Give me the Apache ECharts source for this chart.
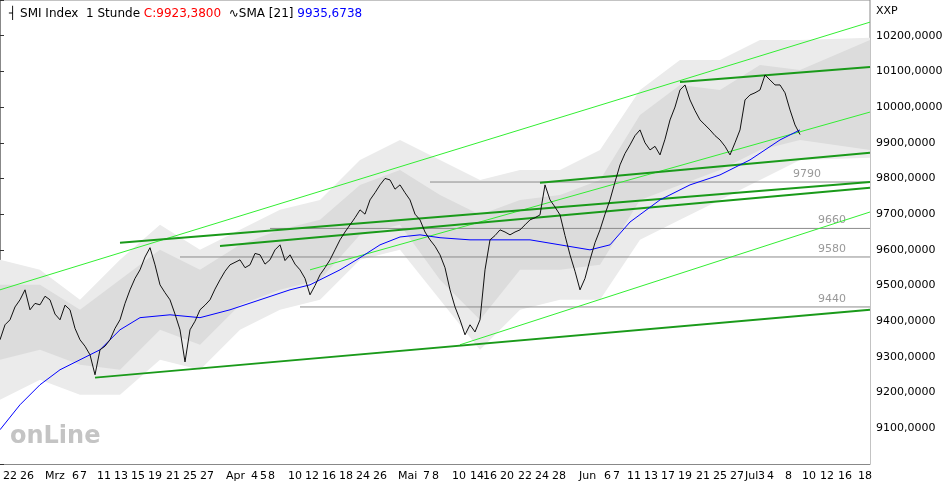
<!DOCTYPE html>
<html>
<head>
<meta charset="utf-8">
<script src="https://cdn.jsdelivr.net/npm/echarts@6/dist/echarts.min.js"></script>
<style>html,body{margin:0;padding:0;background:#fff}#main{width:950px;height:490px}</style>
</head>
<body>
<div id="main"></div>
<script>
/* x = Balkennummer (Stundenbalken), y = Kurs */
var tickPos = [3,20,45,72,80,97,114,131,148,166,183,200,226,251,260,268,288,305,322,339,356,373,398,423,432,452,470,483,500,518,535,552,579,604,613,627,644,661,678,696,713,730,745,758,767,785,802,820,838,858];
var tickText = ['22','26','Mrz','6','7','11','13','15','19','21','25','27','Apr','4','5','8','10','12','16','18','24','26','Mai','7','8','10','14','16','20','22','24','28','Jun','6','7','11','13','17','19','21','25','27','Jul','3','4','8','10','12','16','18'];

// Kurs alle 5 Balken, ab Balken 0
var priceStep = 5;
var price = [
    9348,9390,9404,9440,9460,9488,9432,9450,9446,9470,   // 0-45
    9460,9420,9404,9445,9432,9380,9348,9330,9306,9250,   // 50-95
    9320,9330,9348,9380,9404,9450,9488,9520,9544,9580,   // 100-145
    9606,9558,9502,9480,9460,9420,9376,9286,9376,9400,   // 150-195
    9432,9445,9460,9490,9516,9540,9558,9565,9572,9550,   // 200-245
    9558,9590,9586,9560,9572,9600,9614,9570,9586,9560,   // 250-295
    9544,9520,9474,9500,9530,9550,9572,9600,9628,9650,   // 300-345
    9670,9690,9712,9700,9740,9760,9782,9800,9796,9770,   // 350-395
    9782,9760,9740,9700,9684,9650,9628,9610,9586,9550,   // 400-445
    9488,9440,9404,9362,9390,9370,9404,9544,9628,9640,   // 450-495
    9656,9650,9642,9650,9656,9670,9684,9690,9698,9782,   // 500-545
    9740,9720,9698,9640,9586,9540,9488,9520,9572,9620,   // 550-595
    9656,9700,9740,9790,9838,9870,9894,9920,9936,9900,   // 600-645
    9880,9890,9866,9910,9964,10000,10048,10062,10020,9990, // 650-695
    9964,9950,9936,9920,9908,9890,9866,9900,9936,10020,  // 700-745
    10034,10040,10048,10090,10076,10062,10062,10040,9992,9950, // 750-795
    9923                                                 // 800
];

var smaX = [0,20,40,60,80,100,120,140,170,200,230,260,290,310,340,360,380,400,420,440,470,500,530,560,590,610,630,660,690,720,750,780,800];
var sma = [9096,9166,9222,9264,9292,9320,9376,9410,9418,9410,9432,9460,9488,9502,9544,9578,9614,9636,9642,9634,9628,9628,9628,9614,9600,9614,9678,9740,9782,9810,9852,9908,9936];

var bandX = [0,40,80,120,160,200,240,280,320,360,400,440,480,520,560,600,640,680,720,760,800,870];
var outerHigh = [9572,9544,9460,9572,9670,9600,9656,9712,9740,9852,9908,9852,9796,9824,9824,9880,10048,10132,10132,10188,10188,10194];
var outerLow = [9180,9236,9194,9194,9292,9264,9376,9432,9460,9572,9600,9460,9320,9432,9460,9460,9628,9684,9740,9796,9852,9858];
var innerHigh = [9502,9502,9432,9516,9600,9544,9614,9656,9684,9782,9824,9754,9698,9740,9754,9796,9978,10062,10048,10118,10104,10188];
var innerLow = [9292,9320,9278,9264,9376,9334,9446,9488,9516,9642,9670,9516,9404,9544,9544,9558,9740,9782,9824,9880,9908,9880];

var brightLines = [[[0,9488],[870,10238]],[[310,9544],[870,9986]],[[460,9334],[870,9706]]];
var darkLines = [[[95,9242],[870,9432]],[[120,9620],[870,9790]],[[220,9611],[870,9774]],[[540,9788],[870,9872]],[[680,10070],[870,10112]]];
var levels = [9790,9660,9580,9440];
var levelStart = [430,270,180,300];
var levelLabelShift = [-85,-60,-60,-60];

function zip(xs, ys){ return xs.map(function(x,i){ return [x, ys[i]]; }); }

var chart = echarts.init(document.getElementById('main'));
var series = [];
function band(data, color){
    series.push({type:'line', data: zip(bandX, data), symbol:'none', lineStyle:{width:0},
        areaStyle:{color:color, opacity:1, origin:'start'}, silent:true, z:1});
}
band(outerHigh,'#ebebeb');
band(innerHigh,'#dcdcdc');
band(innerLow,'#ebebeb');
band(outerLow,'#ffffff');
series.push({type:'line', data:[], markArea:{silent:true, itemStyle:{color:'#d4d4d4'}, data:[[{coord:[812,10180]},{coord:[870,9900]}]]}});
levels.forEach(function(v,i){
    series.push({type:'line', data:[[levelStart[i],v],[870,v]], symbol:'none', lineStyle:{color:'#8c8c8c',width:1}, z:3,
        endLabel:{show:true, formatter:String(v), color:'#999', fontSize:11, fontFamily:'DejaVu Sans', offset:[levelLabelShift[i],-8]}});
});
brightLines.forEach(function(l){
    series.push({type:'line', data:l, symbol:'none', lineStyle:{color:'#33ee33',width:1}, z:4});
});
darkLines.forEach(function(l){
    series.push({type:'line', data:l, symbol:'none', lineStyle:{color:'#1a9a1a',width:2}, z:4});
});
series.push({type:'line', data: zip(smaX, sma), symbol:'none', lineStyle:{color:'#0000ff',width:1}, z:5});
series.push({type:'line', data: price.map(function(p,i){ return [i*priceStep, p]; }), symbol:'none', lineStyle:{color:'#111',width:1}, z:6});

chart.setOption({
    animation:false,
    title:{left:4, top:3, text:'{a|┤ SMI Index  1 Stunde }{r|C:9923,3800}{a|  ∿SMA [21] }{b|9935,6738}',
        textStyle:{fontWeight:'normal', rich:{a:{color:'#000',fontSize:12,fontWeight:'normal',fontFamily:'DejaVu Sans'},r:{color:'#ff0000',fontSize:12,fontWeight:'normal',fontFamily:'DejaVu Sans'},b:{color:'#0000ff',fontSize:12,fontWeight:'normal',fontFamily:'DejaVu Sans'}}}},
    graphic:[{type:'text', left:10, top:425, z:10, style:{text:'onLine', fill:'#c4c4c4', fontSize:24, fontWeight:'bold', fontFamily:'DejaVu Sans'}},
             {type:'text', left:876, top:6, style:{text:'XXP', fill:'#000', fontSize:11, fontFamily:'DejaVu Sans'}}],
    grid:{left:0, right:80, top:0, bottom:26, show:true, borderColor:'#888', borderWidth:1},
    xAxis:{type:'value', min:0, max:870,
        axisLine:{lineStyle:{color:'#888'}}, splitLine:{show:false},
        axisTick:{customValues:tickPos, length:4, inside:true, lineStyle:{color:'#333'}},
        axisLabel:{customValues:tickPos, formatter:function(v){ return tickText[tickPos.indexOf(v)]; }, align:'left', color:'#000', fontSize:11, fontFamily:'DejaVu Sans', margin:7}},
    yAxis:{type:'value', position:'right', min:9000, max:10300, interval:100,
        axisLine:{show:true, lineStyle:{color:'#888'}}, splitLine:{show:false},
        axisTick:{show:true, length:4, lineStyle:{color:'#333'}},
        axisLabel:{formatter:function(v){ return v===9000||v===10300 ? '' : v+',0000'; }, color:'#000', fontSize:11, fontFamily:'DejaVu Sans', margin:6}},
    series:series
});
</script>
</body>
</html>
